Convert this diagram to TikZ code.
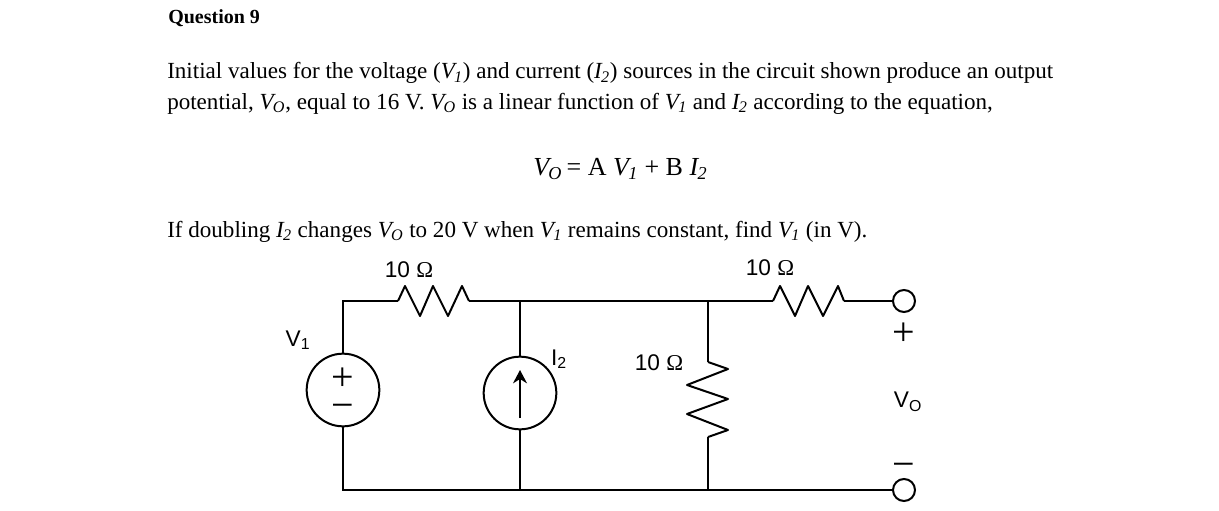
\documentclass[tikz,border=0pt]{standalone}
\usepackage{fontspec}
\usetikzlibrary{arrows.meta}
\setmainfont{Liberation Serif}
\newfontfamily\circfont{Liberation Sans}
\newcommand{\qsym}[2]{\textit{#1\kern-0.5pt\textsubscript{#2}}}
\begin{document}
\begin{tikzpicture}[
    x=0.75pt, y=-0.75pt,
    wire/.style={line width=1.5pt},
    body/.style={anchor=base west, inner sep=0pt, font=\fontsize{17.3}{20}\selectfont},
    source/.style={circle, draw, line width=1.5pt, minimum size=54.5pt, inner sep=0pt},
    terminal/.style={circle, draw, line width=1.5pt, minimum size=16.5pt, inner sep=0pt},
    circlabel/.style={inner sep=0pt, font=\circfont\fontsize{17}{20}\selectfont},
    polarity/.style={inner sep=0pt, font=\fontsize{30}{21}\selectfont}
]
    \useasboundingbox (0,0) rectangle (1219,510);

    % Text
    \node[body, font=\fontsize{15}{20}\selectfont\bfseries] (title) at (168,24) {Question 9};
    \node[body] (line1) at (167,79) {Initial values for the voltage (\qsym{V}{1}) and current (\qsym{I}{2}) sources in the circuit shown produce an output};
    \node[body] (line2) at (167,109) {potential, \qsym{V}{O}, equal to 16 V. \qsym{V}{O} is a linear function of \qsym{V}{1} and \qsym{I}{2} according to the equation,};
    \node[body, font=\fontsize{19.5}{22}\selectfont] (eqn) at (533,175) {\qsym{V}{O}\,= A \qsym{V}{1} + B \qsym{I}{2}};
    \node[body] (line3) at (167,237) {If doubling \qsym{I}{2} changes \qsym{V}{O} to 20 V when \qsym{V}{1} remains constant, find \qsym{V}{1} (in V).};

    % Sources and terminals
    \node[source] (vone) at (343,390) {};
    \node[source] (itwo) at (520,393) {};
    \node[terminal] (outp) at (904,301) {};
    \node[terminal] (outn) at (904,490) {};

    % Junctions
    \coordinate (tl) at (343,301);
    \coordinate (ja) at (520,301);
    \coordinate (jb) at (708,301);
    \coordinate (bl) at (343,490);
    \coordinate (ka) at (520,490);
    \coordinate (kb) at (708,490);
    \coordinate (raa) at (398,301);
    \coordinate (rab) at (469,301);
    \coordinate (rba) at (773,301);
    \coordinate (rbb) at (844,301);
    \coordinate (rca) at (708,362);
    \coordinate (rcb) at (708,437);

    % Resistors
    \draw[wire, line join=round] (raa) -- ++(7,-15) -- ++(15,30) -- ++(13,-30) -- ++(15,30) -- ++(14,-30) -- (rab);
    \draw[wire, line join=round] (rba) -- ++(7,-15) -- ++(15,30) -- ++(13,-30) -- ++(15,30) -- ++(15,-30) -- (rbb);
    \draw[wire, line join=round] (rca) -- ++(20,7) -- ++(-41,16) -- ++(41,14) -- ++(-41,15) -- ++(41,16) -- (rcb);

    % Wires
    \draw[wire] (vone.north) -- (tl) -- (raa);
    \draw[wire] (rab) -- (ja) -- (jb) -- (rba);
    \draw[wire] (rbb) -- (outp.west);
    \draw[wire] (ja) -- (itwo.north);
    \draw[wire] (jb) -- (rca);
    \draw[wire] (vone.south) -- (bl) -- (ka) -- (kb) -- (outn.west);
    \draw[wire] (itwo.south) -- (ka);
    \draw[wire] (rcb) -- (kb);

    % Source marks
    \node[polarity, align=center] (vmarks) at (343,393) {+\\\textminus};
    \coordinate (ita) at (520,418);
    \coordinate (itb) at (520,370);
    \draw[wire, -{Stealth[length=10pt, width=10.5pt]}] (ita) -- (itb);

    % Labels
    \node[circlabel] (la) at (409,270) {10 {\rmfamily Ω}};
    \node[circlabel] (lb) at (770,268) {10 {\rmfamily Ω}};
    \node[circlabel] (lc) at (659,363) {10 {\rmfamily Ω}};
    \node[circlabel] (lv) at (298,340) {V\textsubscript{1}};
    \node[circlabel] (li) at (559,359) {I\textsubscript{2}};
    \node[circlabel] (lo) at (908,402) {V\textsubscript{O}};
    \node[polarity] (oplus) at (904,334) {+};
    \node[polarity] (ominus) at (904,470) {\textminus};
\end{tikzpicture}
\end{document}
